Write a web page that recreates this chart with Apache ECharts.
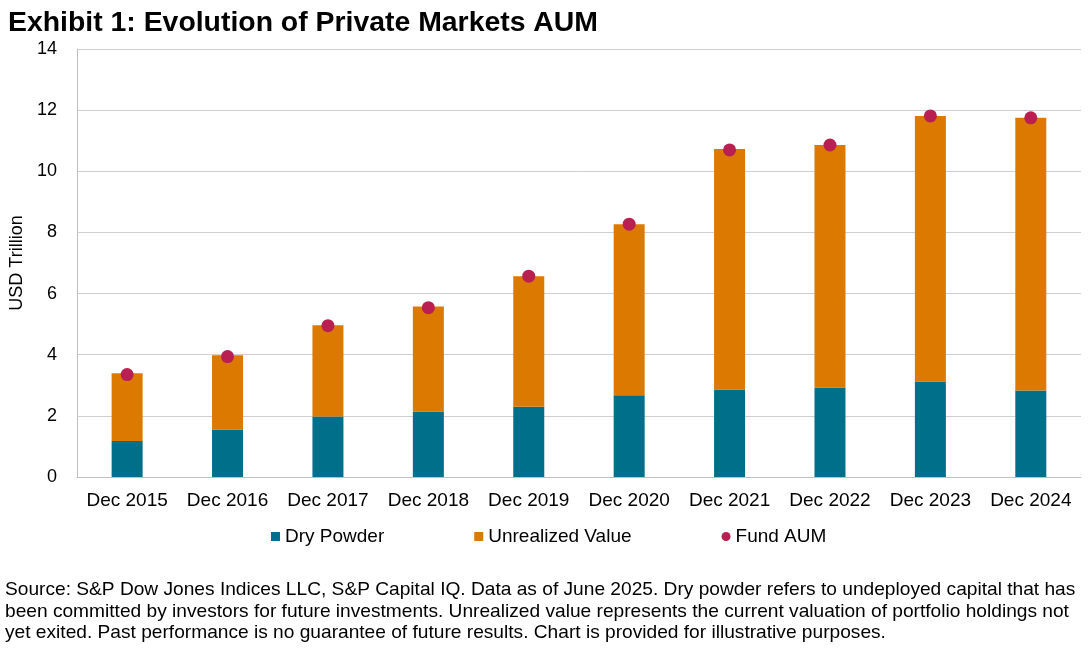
<!DOCTYPE html>
<html>
<head>
<meta charset="utf-8">
<script src="https://cdn.jsdelivr.net/npm/echarts@6/dist/echarts.min.js"></script>
<style>
html,body{margin:0;padding:0;background:#fff;}
#chart{width:1090px;height:652px;}
</style>
</head>
<body>
<div id="chart"></div>
<script>
const categories = ['Dec 2015','Dec 2016','Dec 2017','Dec 2018','Dec 2019','Dec 2020','Dec 2021','Dec 2022','Dec 2023','Dec 2024'];
const dryPowder = [1.18, 1.55, 1.98, 2.14, 2.30, 2.67, 2.86, 2.93, 3.12, 2.83];
const unrealizedValue = [2.21, 2.43, 2.98, 3.44, 4.27, 5.60, 7.87, 7.93, 8.69, 8.92];
const fundAUM = [3.35, 3.94, 4.95, 5.54, 6.57, 8.27, 10.70, 10.86, 11.81, 11.75];

const FONT = '"Liberation Sans", Arial, sans-serif';
const chart = echarts.init(document.getElementById('chart'), null, {renderer: 'canvas'});
chart.setOption({
  animation: false,
  backgroundColor: '#ffffff',
  textStyle: {fontFamily: FONT, color: '#000'},
  title: {
    text: 'Exhibit 1: Evolution of Private Markets AUM',
    left: 3, top: 4,
    textStyle: {fontFamily: FONT, fontSize: 28.4, fontWeight: 'bold', color: '#000'}
  },
  grid: {left: 73, right: 9, top: 49, bottom: 175, containLabel: false},
  legend: {
    left: 266, top: 522,
    itemGap: 90,
    itemWidth: 9, itemHeight: 9,
    textStyle: {fontFamily: FONT, fontSize: 19, color: '#000'},
    data: [
      {name: 'Dry Powder', icon: 'rect'},
      {name: 'Unrealized Value', icon: 'rect'},
      {name: 'Fund AUM', icon: 'circle'}
    ]
  },
  xAxis: {
    type: 'category',
    data: categories,
    axisLine: {lineStyle: {color: '#bfbfbf', width: 1}},
    axisTick: {show: false},
    axisLabel: {fontFamily: FONT, fontSize: 19, color: '#000', margin: 14, interval: 0}
  },
  yAxis: {
    type: 'value',
    min: 0, max: 14, interval: 2,
    name: 'USD Trillion',
    nameLocation: 'middle',
    nameGap: 40,
    nameTextStyle: {fontFamily: FONT, fontSize: 18, color: '#000'},
    axisLine: {show: true, lineStyle: {color: '#bfbfbf', width: 1}},
    axisTick: {show: false},
    splitLine: {lineStyle: {color: '#cfcfcf', width: 1}},
    axisLabel: {fontFamily: FONT, fontSize: 18, color: '#000', margin: 20, align: 'right'}
  },
  series: [
    {
      name: 'Dry Powder', type: 'bar', stack: 'aum',
      data: dryPowder, barWidth: 31,
      itemStyle: {color: '#006F8A'}
    },
    {
      name: 'Unrealized Value', type: 'bar', stack: 'aum',
      data: unrealizedValue, barWidth: 31,
      itemStyle: {color: '#DC7900'}
    },
    {
      name: 'Fund AUM', type: 'scatter',
      data: fundAUM, symbol: 'circle', symbolSize: 13,
      itemStyle: {color: '#B91F50', opacity: 1},
      z: 5
    }
  ],
  graphic: [
    {
      type: 'text', left: 5, top: 579,
      style: {
        text: 'Source: S&P Dow Jones Indices LLC, S&P Capital IQ. Data as of June 2025. Dry powder refers to undeployed capital that has\nbeen committed by investors for future investments. Unrealized value represents the current valuation of portfolio holdings not\nyet exited. Past performance is no guarantee of future results. Chart is provided for illustrative purposes.',
        font: '19.15px "Liberation Sans", Arial, sans-serif',
        lineHeight: 21.5,
        fill: '#000'
      }
    }
  ]
});
</script>
</body>
</html>
